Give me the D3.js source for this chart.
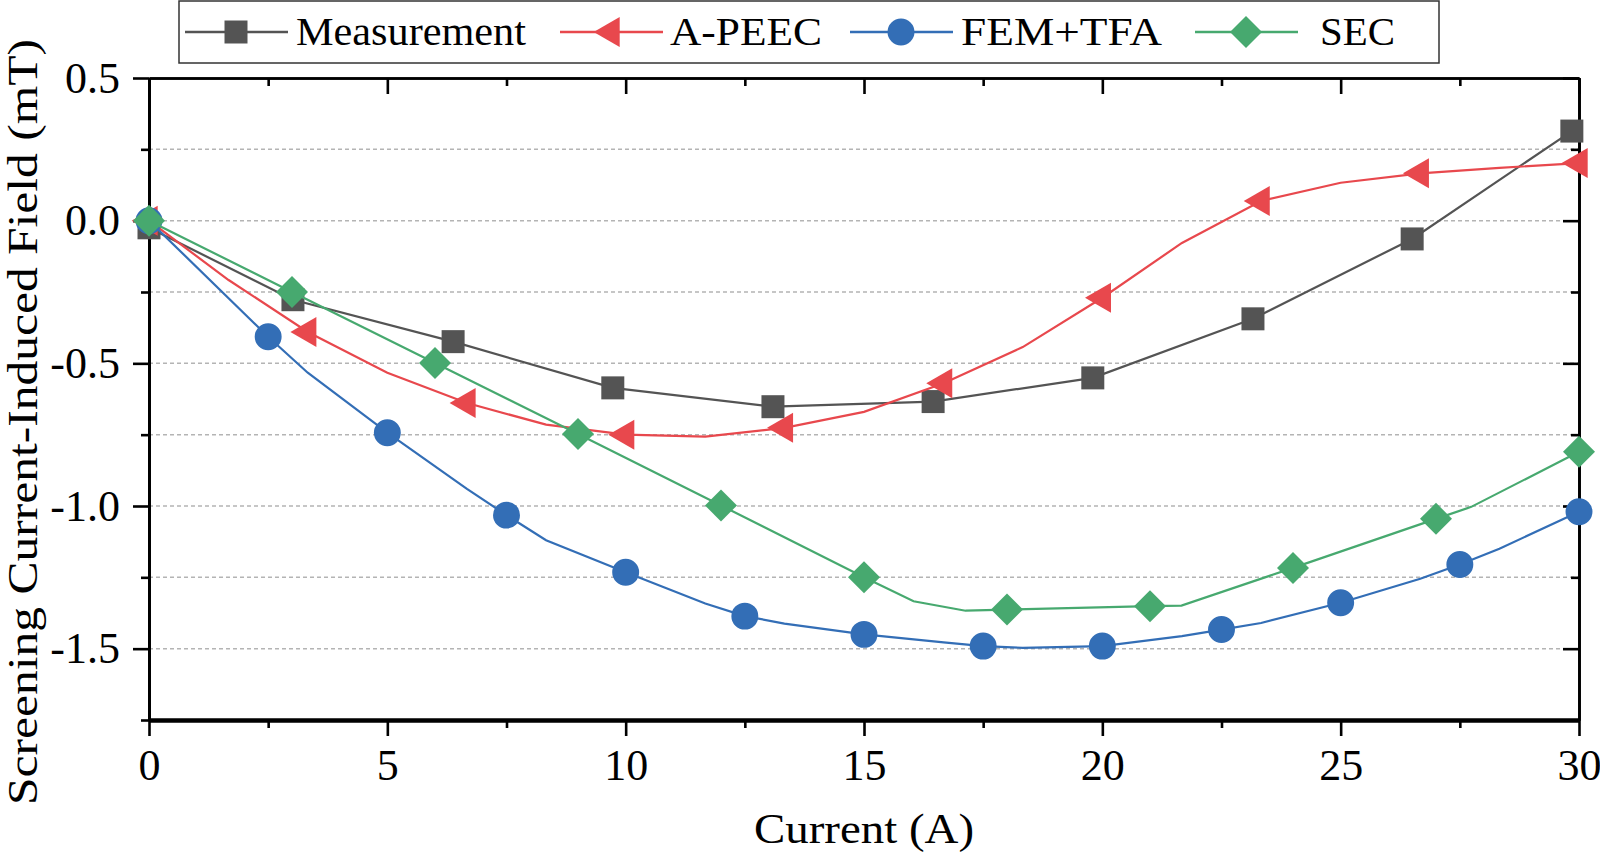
<!DOCTYPE html>
<html>
<head>
<meta charset="utf-8">
<script src="https://cdn.jsdelivr.net/npm/d3@7"></script>
<style>
  body { margin: 0; background: #fff; }
  svg { display: block; }
  text { font-family: "Liberation Serif", "DejaVu Serif", serif; fill: #000; }
</style>
</head>
<body>
<script>
// ---- data ----
var measX = [0, 3.02, 6.38, 9.73, 13.09, 16.45, 19.8, 23.16, 26.5, 29.85];
var measY = [-0.025, -0.277, -0.424, -0.586, -0.652, -0.634, -0.551, -0.344, -0.064, 0.314];

var peecX = [0, 3.33, 6.67, 10, 13.33, 16.67, 20, 23.33, 26.67, 30];
var peecY = [0, -0.39, -0.639, -0.75, -0.726, -0.57, -0.27, 0.069, 0.166, 0.202];
var peecLineX = [0, 1.67, 3.33, 5, 6.67, 8.33, 10, 11.67, 13.33, 15, 16.67, 18.33, 20, 21.67, 23.33, 25, 26.67, 28.33, 30];
var peecLineY = [0, -0.208, -0.39, -0.533, -0.639, -0.715, -0.75, -0.757, -0.726, -0.67, -0.57, -0.443, -0.27, -0.078, 0.069, 0.133, 0.166, 0.185, 0.202];

var femX = [0, 2.5, 5, 7.5, 10, 12.5, 15, 17.5, 20, 22.5, 25, 27.5, 30];
var femY = [0, -0.407, -0.743, -1.032, -1.232, -1.386, -1.45, -1.491, -1.491, -1.433, -1.339, -1.205, -1.02];
var femLineX = [0, 2.5, 3.33, 5, 6.67, 7.5, 8.33, 10, 11.67, 12.5, 13.33, 15, 16.67, 17.5, 18.33, 20, 21.67, 22.5, 23.33, 25, 26.67, 27.5, 28.33, 30];
var femLineY = [0, -0.407, -0.533, -0.743, -0.94, -1.032, -1.12, -1.232, -1.342, -1.386, -1.412, -1.45, -1.478, -1.491, -1.497, -1.491, -1.456, -1.433, -1.41, -1.339, -1.255, -1.205, -1.15, -1.02];

var secX = [0, 3, 6, 9, 12, 15, 18, 21, 24, 27, 30];
var secY = [0, -0.25, -0.499, -0.748, -0.998, -1.25, -1.363, -1.351, -1.217, -1.045, -0.81];
var secLineX = [0, 3, 6, 9, 12, 15, 16.04, 17.13, 18, 21, 21.66, 24, 27, 27.74, 30];
var secLineY = [0, -0.25, -0.499, -0.748, -0.998, -1.25, -1.334, -1.367, -1.363, -1.351, -1.349, -1.217, -1.045, -1.003, -0.81];

var seriesNames = ["Measurement", "A-PEEC", "FEM+TFA", "SEC"];
var xMajorTicks = [0, 5, 10, 15, 20, 25, 30];
var xMinorTicks = [2.5, 7.5, 12.5, 17.5, 22.5, 27.5];
var yMajorTicks = [0.5, 0, -0.5, -1, -1.5];
var yMinorTicks = [0.25, -0.25, -0.75, -1.25, -1.75];
var yGridTicks = [0.25, 0, -0.25, -0.5, -0.75, -1, -1.25, -1.5];

var xTitle = "Current (A)";
var yTitle = "Screening Current-Induced Field (mT)";

// ---- layout ----
var W = 1600, H = 856;
var plotLeft = 149, plotRight = 1579, plotTop = 78, plotBottom = 720;

var series = [
  {name: seriesNames[0], color: "#545454", lx: measX, ly: measY, mx: measX, my: measY,
   sym: d3.symbolSquare, size: 529, rot: 0},
  {name: seriesNames[1], color: "#e8484d", lx: peecLineX, ly: peecLineY, mx: peecX, my: peecY,
   sym: d3.symbolTriangle, size: 390, rot: -90},
  {name: seriesNames[2], color: "#336eb6", lx: femLineX, ly: femLineY, mx: femX, my: femY,
   sym: d3.symbolCircle, size: 570, rot: 0},
  {name: seriesNames[3], color: "#47a96f", lx: secLineX, ly: secLineY, mx: secX, my: secY,
   sym: d3.symbolSquare, size: 512, rot: 45}
];

var svg = d3.select("body").append("svg").attr("width", W).attr("height", H);

var x = d3.scaleLinear().domain([0, 30]).range([plotLeft, plotRight]);
var y = d3.scaleLinear().domain([-1.75, 0.5]).range([plotBottom, plotTop]);

// tick labels use a plain hyphen, as in the figure
var yFmt = function(d){ return d3.format(".1f")(d).replace("\u2212", "-"); };

// grid
svg.append("g").selectAll("line").data(yGridTicks).join("line")
  .attr("x1", plotLeft).attr("x2", plotRight)
  .attr("y1", function(d){ return y(d); }).attr("y2", function(d){ return y(d); })
  .attr("stroke", "#b4b4b4").attr("stroke-width", 1.5).attr("stroke-dasharray", "4,3");

function styleAxis(g, w) {
  g.select(".domain").attr("stroke", "#000").attr("stroke-width", w);
  g.selectAll(".tick line").attr("stroke", "#000").attr("stroke-width", 2.6);
  g.selectAll(".tick text").attr("font-size", 44).attr("font-family", "Liberation Serif");
}

// bottom
svg.append("g").attr("transform", "translate(0," + plotBottom + ")")
  .call(d3.axisBottom(x).tickValues(xMinorTicks).tickSize(8).tickSizeOuter(0).tickFormat(""))
  .call(styleAxis, 4);
svg.append("g").attr("transform", "translate(0," + plotBottom + ")")
  .call(d3.axisBottom(x).tickValues(xMajorTicks).tickSize(16).tickSizeOuter(0).tickPadding(13).tickFormat(d3.format("d")))
  .call(styleAxis, 4);
// top
svg.append("g").attr("transform", "translate(0," + plotTop + ")")
  .call(d3.axisTop(x).tickValues(xMinorTicks).tickSize(-8).tickSizeOuter(0).tickFormat(""))
  .call(styleAxis, 2.7);
svg.append("g").attr("transform", "translate(0," + plotTop + ")")
  .call(d3.axisTop(x).tickValues(xMajorTicks).tickSize(-16).tickSizeOuter(0).tickFormat(""))
  .call(styleAxis, 2.7);
// left
svg.append("g").attr("transform", "translate(" + plotLeft + ",0)")
  .call(d3.axisLeft(y).tickValues(yMinorTicks).tickSize(8).tickSizeOuter(0).tickFormat(""))
  .call(styleAxis, 3);
svg.append("g").attr("transform", "translate(" + plotLeft + ",0)")
  .call(d3.axisLeft(y).tickValues(yMajorTicks).tickSize(16).tickSizeOuter(0).tickPadding(13).tickFormat(yFmt))
  .call(styleAxis, 3);
// right
svg.append("g").attr("transform", "translate(" + plotRight + ",0)")
  .call(d3.axisRight(y).tickValues(yMinorTicks).tickSize(-8).tickSizeOuter(0).tickFormat(""))
  .call(styleAxis, 2.7);
svg.append("g").attr("transform", "translate(" + plotRight + ",0)")
  .call(d3.axisRight(y).tickValues(yMajorTicks).tickSize(-16).tickSizeOuter(0).tickFormat(""))
  .call(styleAxis, 2.7);

// titles
svg.append("text").attr("x", (plotLeft + plotRight) / 2).attr("y", 843)
  .attr("text-anchor", "middle").attr("font-size", 42)
  .attr("textLength", 220).attr("lengthAdjust", "spacingAndGlyphs").text(xTitle);
svg.append("text").attr("transform", "translate(37," + 422 + ") rotate(-90)")
  .attr("text-anchor", "middle").attr("font-size", 42)
  .attr("textLength", 766).attr("lengthAdjust", "spacingAndGlyphs").text(yTitle);

// lines and markers
var line = d3.line().x(function(d){ return x(d[0]); }).y(function(d){ return y(d[1]); });

series.forEach(function(s) {
  var g = svg.append("g");
  g.append("path").datum(d3.zip(s.lx, s.ly))
    .attr("d", line).attr("fill", "none").attr("stroke", s.color).attr("stroke-width", 2.2);
  g.selectAll("path.m").data(d3.zip(s.mx, s.my)).join("path").attr("class", "m")
    .attr("d", d3.symbol().type(s.sym).size(s.size))
    .attr("transform", function(d){ return "translate(" + x(d[0]) + "," + y(d[1]) + ") rotate(" + s.rot + ")"; })
    .attr("fill", s.color);
});

// legend
var legItems = [
  {lineX: 185, textX: 296, textW: 230},
  {lineX: 560, textX: 670, textW: 152},
  {lineX: 850, textX: 961, textW: 201},
  {lineX: 1195, textX: 1320, textW: 75}
];
var leg = svg.append("g");
leg.append("rect").attr("x", 179).attr("y", 1).attr("width", 1260).attr("height", 62)
  .attr("fill", "#fff").attr("stroke", "#333").attr("stroke-width", 1.5);
series.forEach(function(s, i) {
  var it = legItems[i], cy = 32;
  leg.append("line").attr("x1", it.lineX).attr("x2", it.lineX + 103)
    .attr("y1", cy).attr("y2", cy).attr("stroke", s.color).attr("stroke-width", 2.4);
  leg.append("path").attr("d", d3.symbol().type(s.sym).size(s.size))
    .attr("transform", "translate(" + (it.lineX + 51) + "," + cy + ") rotate(" + s.rot + ")")
    .attr("fill", s.color);
  leg.append("text").attr("x", it.textX).attr("y", 45).attr("font-size", 40)
    .attr("textLength", it.textW).attr("lengthAdjust", "spacingAndGlyphs").text(s.name);
});
</script>
</body>
</html>
